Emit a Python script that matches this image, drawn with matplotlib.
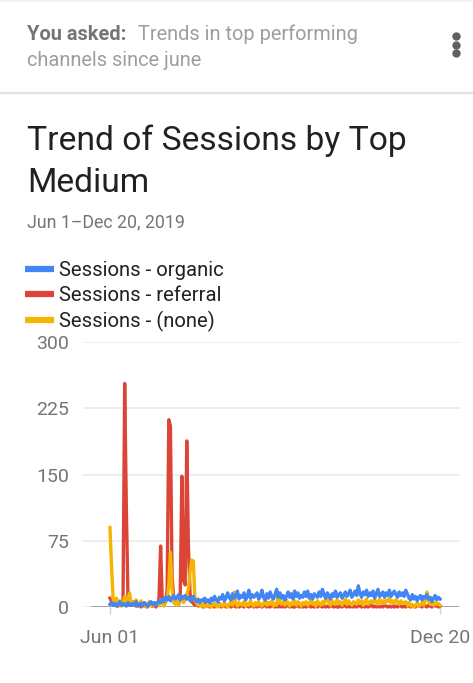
import numpy as np
import pandas as pd
import matplotlib
matplotlib.use("Agg")
import matplotlib.pyplot as plt
from matplotlib.lines import Line2D

# daily sessions, Jun 1 - Dec 20 2019
organic = [3, 5, 2, 4, 1, 3, 6, 2, 4, 3, 1, 5, 2, 3, 4, 2, 6, 1, 3, 4, 2, 5, 3, 1, 4, 6, 3, 5, 2, 4,
           7, 5, 9, 6, 11, 8, 12, 7, 10, 13, 9, 11, 14, 8, 12, 10, 13, 9, 11, 7, 10, 12, 8, 6, 9, 5, 8, 7, 10, 6,
           8, 5, 10, 7, 12, 8, 6, 11, 9, 14, 7, 10, 16, 11, 8, 15, 10, 12, 18, 9, 13, 11, 16, 8, 12, 19, 10, 14, 11, 13,
           16, 9, 12, 19, 11, 8, 15, 10, 17, 12, 9, 14, 20, 11, 16, 10, 13, 8, 12, 17, 11, 15, 9, 18, 12, 16, 10, 13, 11, 17,
           12, 18, 10, 14, 9, 15, 13, 11, 17, 12, 20, 14, 10, 16, 13, 9, 15, 12, 18, 11, 14, 16, 10, 13, 17, 12, 15, 19, 11, 14,
           18, 13, 24, 15, 11, 17, 14, 19, 12, 16, 13, 18, 10, 15, 20, 12, 14, 17, 11, 16, 13, 19, 12, 15, 18, 14, 11, 17, 13, 16,
           12, 19, 15, 10, 8, 14, 9, 12, 7, 11, 13, 8, 12, 10, 14, 9, 11, 6, 10, 13, 8, 11, 9]
referral = [10, 6, 3, 2, 5, 1, 4, 3, 8, 253, 115, 12, 4, 2, 6, 3, 1, 2, 4, 0, 3, 1, 2, 0, 5, 2, 1, 3, 0, 2,
            10, 69, 8, 3, 5, 20, 212, 205, 35, 10, 4, 6, 3, 15, 148, 30, 25, 188, 70, 15, 6, 4, 2, 5, 1, 3, 2, 0, 4, 1,
            2, 0, 3, 1, 0, 2, 1, 4, 0, 1, 2, 0, 1, 3, 0, 1, 2, 0, 1, 0, 2, 1, 0, 3, 1, 0, 1, 2, 0, 1,
            0, 2, 1, 0, 1, 3, 0, 1, 0, 2, 1, 0, 1, 0, 2, 0, 1, 0, 1, 2, 0, 1, 0, 0, 1, 2, 0, 1, 0, 1,
            0, 1, 2, 0, 1, 0, 1, 0, 2, 1, 0, 1, 0, 1, 0, 2, 1, 0, 1, 0, 0, 1, 0, 2, 1, 0, 1, 0, 1, 0,
            1, 0, 2, 1, 0, 1, 0, 1, 0, 1, 2, 0, 1, 0, 1, 0, 1, 0, 2, 1, 0, 1, 0, 1, 0, 1, 0, 2, 1, 0,
            1, 0, 3, 1, 0, 2, 1, 0, 4, 1, 2, 0, 3, 1, 0, 2, 1, 0, 3, 1, 2, 0, 1]
none = [90, 45, 6, 3, 10, 2, 7, 1, 5, 12, 4, 9, 16, 3, 6, 2, 8, 1, 4, 7, 2, 5, 0, 3, 6, 1, 4, 2, 5, 3,
        2, 8, 4, 1, 6, 10, 25, 62, 20, 5, 3, 7, 2, 9, 12, 5, 8, 14, 20, 40, 53, 52, 8, 4, 2, 5, 1, 3, 0, 2,
        1, 3, 0, 2, 4, 1, 0, 3, 2, 1, 5, 2, 0, 3, 6, 2, 17, 4, 1, 5, 3, 2, 6, 1, 4, 2, 7, 3, 1, 5,
        2, 6, 3, 1, 4, 8, 2, 5, 3, 7, 1, 4, 2, 16, 5, 3, 6, 2, 8, 4, 1, 5, 3, 7, 2, 6, 4, 1, 5, 3,
        6, 2, 4, 8, 3, 5, 1, 7, 4, 2, 6, 3, 9, 12, 4, 2, 7, 5, 3, 8, 4, 6, 2, 5, 9, 3, 7, 4, 2, 6,
        5, 3, 8, 4, 7, 2, 6, 9, 3, 5, 7, 4, 8, 6, 3, 9, 5, 7, 4, 8, 6, 10, 5, 7, 4, 8, 6, 3, 7, 5,
        4, 6, 2, 5, 1, 3, 0, 2, 4, 1, 3, 5, 2, 8, 17, 6, 3, 4, 2, 5, 3, 4, 2]

dates = pd.date_range("2019-06-01", "2019-12-20")
labels = ["Sessions - organic", "Sessions - referral", "Sessions - (none)"]
colors = ["#4285F4", "#DB4437", "#F4B400"]
yticks = [0, 75, 150, 225, 300]

W, H = 473, 683
plt.rcParams['font.family'] = ['Roboto', 'DejaVu Sans']
fig = plt.figure(figsize=(W / 100, H / 100), dpi=100)

def fy(px):
    return 1 - px / H

# header
fig.text(27 / W, fy(40), "You asked:", fontsize=14.4, fontweight="bold", color="#757575")
fig.text(138 / W, fy(40), "Trends in top performing", fontsize=14.4, color="#9e9e9e")
fig.text(27 / W, fy(66), "channels since june", fontsize=14.4, color="#9e9e9e")
fig.add_artist(Line2D([456 / W] * 3, [fy(36), fy(45), fy(53)], ls="", marker="o", ms=5,
                      color="#616161", transform=fig.transFigure))
fig.add_artist(Line2D([0, 1], [fy(93), fy(93)], color="#e3e3e3", lw=1.6, transform=fig.transFigure))
fig.add_artist(Line2D([0, 1], [fy(1), fy(1)], color="#f2f2f2", lw=1.2, transform=fig.transFigure))

fig.text(27 / W, fy(150), "Trend of Sessions by Top", fontsize=24.2, color="#202124")
fig.text(27 / W, fy(192), "Medium", fontsize=24.2, color="#202124")
fig.text(27 / W, fy(227), "Jun 1\u2013Dec 20, 2019", fontsize=12.8, color="#757575")

ax = fig.add_axes([83 / W, fy(607), (460 - 83) / W, (607 - 342) / H])
series = [organic, referral, none]
zorders = [4, 2, 3]
for vals, lab, c, z in zip(series, labels, colors, zorders):
    ax.plot(dates, vals, color=c, lw=2.4, zorder=z, clip_on=False, label=lab)

ax.set_ylim(0, 300)
ax.set_xlim(dates[0] - pd.Timedelta(days=16.5), dates[-1] + pd.Timedelta(days=12.2))
ax.set_yticks(yticks)
ax.set_yticklabels([str(v) for v in yticks])
ax.set_xticks([dates[0], dates[-1]])
ax.set_xticklabels([d.strftime("%b %d") for d in [dates[0], dates[-1]]])
for s in ax.spines.values():
    s.set_visible(False)
ax.grid(axis="y", color="#ebebeb", lw=1.2)
ax.set_axisbelow(True)
ax.axhline(0, xmin=0.024, xmax=0.995, color="#9e9e9e", lw=1.3, zorder=1)
ax.tick_params(axis="y", length=0, pad=10, labelsize=14, labelcolor="#757575")
ax.tick_params(axis="x", length=5, width=1, color="#d0d0d0", pad=11, labelsize=14, labelcolor="#757575")

handles = [Line2D([], [], color=c, lw=4.5, solid_capstyle="butt") for c in colors]
fig.legend(handles, labels, loc="upper left", bbox_to_anchor=(25 / W, fy(261)), frameon=False,
           fontsize=14.6, handlelength=1.45, handletextpad=0.25, labelspacing=0.3,
           borderaxespad=0, borderpad=0, labelcolor="#212121")

fig.savefig("out.png", dpi=100)
